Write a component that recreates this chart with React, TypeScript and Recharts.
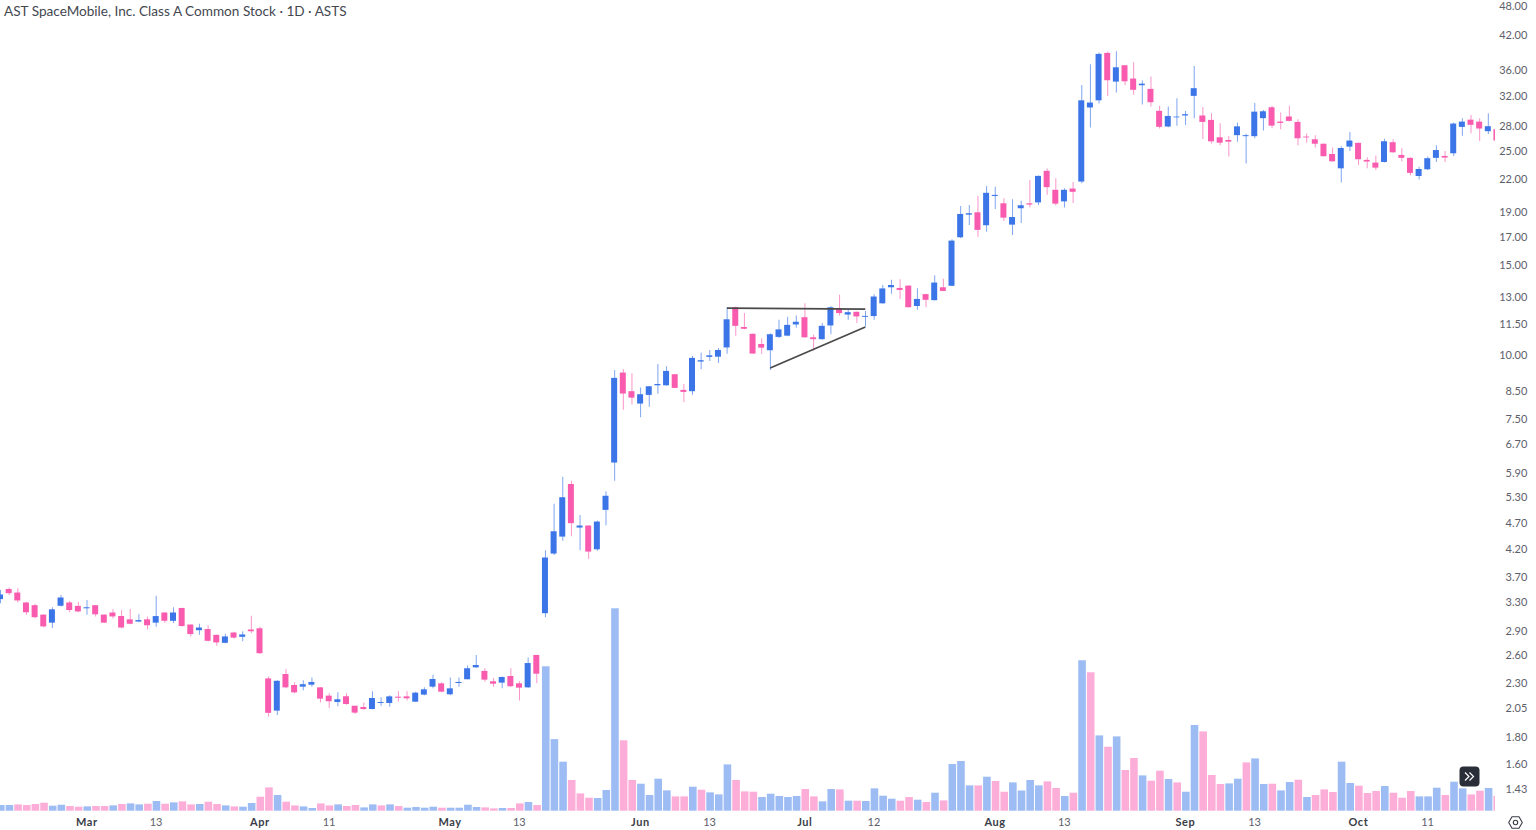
import React from "react";
import { ComposedChart, Bar, Cell, XAxis, YAxis, ReferenceLine } from "recharts";

const title = "AST SpaceMobile, Inc. Class A Common Stock · 1D · ASTS";

const highs = [
  3.48,3.52,3.505,3.30,3.27,3.12,3.22,3.40,3.31,3.30,
  3.325,3.25,3.12,3.19,3.18,3.195,3.12,3.09,3.39,3.15,
  3.22,3.21,2.98,2.99,2.97,2.85,2.86,2.885,2.89,3.10,
  2.95,2.36,2.32,2.44,2.30,2.32,2.35,2.25,2.19,2.20,
  2.19,2.07,2.10,2.21,2.15,2.17,2.21,2.21,2.205,2.25,
  2.38,2.30,2.35,2.35,2.48,2.60,2.45,2.345,2.36,2.45,
  2.31,2.57,2.60,4.16,5.12,5.78,5.68,4.87,4.65,4.75,
  5.42,9.34,9.38,9.20,8.63,8.69,9.59,9.49,9.17,8.77,
  9.945,10.09,10.21,10.30,12.37,12.41,12.05,11.0,10.76,11.01,
  11.69,11.85,11.92,12.59,10.93,11.52,12.43,13.08,12.3,12.14,
  12.16,13.12,13.67,14.0,14.03,13.65,13.47,13.14,14.28,14.05,
  16.78,19.49,19.58,20.38,21.32,21.23,20.17,20.07,19.95,21.9,
  22.34,23.04,22.07,21.1,21.7,33.54,36.8,38.78,38.95,39.0,
  36.63,37.14,34.2,34.83,30.53,30.44,31.6,29.84,36.53,30.39,
  29.54,28.24,26.68,28.32,26.93,30.93,29.97,30.53,29.63,30.53,
  28.76,26.97,26.77,25.8,25.33,25.47,27.16,25.9,24.25,24.43,
  26.33,26.29,25.24,24.25,23.24,24.32,25.6,24.93,28.33,28.87,
  29.3,28.87,29.53,27.5,
];

const lows = [
  3.28,3.40,3.29,3.115,3.06,2.94,2.935,3.23,3.15,3.15,
  3.115,3.09,3.0,3.06,2.93,2.985,3.01,2.915,2.95,3.0,
  3.0,2.95,2.825,2.845,2.76,2.71,2.74,2.80,2.765,2.87,
  2.615,1.97,1.985,2.24,2.19,2.22,2.255,2.10,2.05,2.065,
  2.08,1.995,2.03,2.035,2.07,2.06,2.11,2.12,2.105,2.17,
  2.24,2.20,2.17,2.255,2.33,2.455,2.305,2.255,2.24,2.255,
  2.12,2.245,2.29,3.08,4.07,4.34,4.43,4.16,4.0,4.15,
  4.65,5.68,7.81,8.0,7.55,7.92,8.39,8.70,8.60,8.09,
  8.35,9.37,9.72,9.63,10.04,10.89,11.20,10.04,10.03,9.34,
  10.78,10.86,11.28,10.79,10.19,10.69,10.96,11.92,11.69,11.52,
  11.35,11.69,12.57,13.14,12.84,12.35,12.23,12.37,12.75,13.29,
  13.6,16.88,17.9,16.98,17.36,19.23,18.22,17.11,18.06,19.38,
  19.58,20.48,19.52,19.35,19.75,21.57,27.7,30.85,31.93,32.42,
  33.49,32.08,30.72,30.44,27.58,27.75,27.94,28.03,28.89,26.32,
  25.8,25.58,24.32,26.0,23.57,26.41,27.33,27.61,27.49,28.45,
  25.6,25.88,25.33,24.32,23.77,21.66,24.93,23.42,23.07,22.9,
  23.67,24.75,23.78,22.36,21.94,22.9,23.74,23.74,24.39,26.69,
  26.99,26.09,26.91,26.13,
];

const opens = [
  3.34,3.495,3.44,3.29,3.25,3.115,3.005,3.24,3.29,3.24,
  3.205,3.25,3.115,3.145,3.095,3.05,3.02,3.05,3.005,3.145,
  3.03,3.21,2.98,2.905,2.92,2.845,2.745,2.875,2.82,2.915,
  2.93,2.34,2.025,2.387,2.272,2.255,2.275,2.248,2.166,2.105,
  2.16,2.07,2.058,2.04,2.096,2.096,2.156,2.159,2.108,2.176,
  2.255,2.289,2.179,2.292,2.331,2.459,2.42,2.31,2.296,2.366,
  2.289,2.248,2.60,3.135,4.097,4.421,5.598,4.604,4.646,4.176,
  4.984,6.163,9.229,8.488,8.029,8.348,8.716,8.716,9.16,8.538,
  8.488,9.695,9.90,9.91,10.33,12.37,11.32,10.98,10.49,10.2,
  10.83,10.89,11.45,11.83,10.81,10.72,11.4,12.33,11.97,12.12,
  11.85,11.89,12.59,13.53,13.49,13.63,12.44,13.12,12.77,13.53,
  13.62,16.93,18.74,18.94,17.87,20.38,19.72,17.92,19.29,19.72,
  19.8,22.81,20.95,19.89,21.07,21.74,30.31,31.3,38.72,34.04,
  36.63,34.51,33.49,32.95,29.86,27.83,29.0,29.24,31.93,29.24,
  28.67,26.52,26.2,26.77,26.65,26.65,28.89,30.34,28.45,29.11,
  28.41,26.6,26.28,25.76,24.6,23.07,25.43,25.86,23.96,23.67,
  23.74,25.94,24.5,24.18,22.29,22.97,24.18,24.39,24.68,27.78,
  28.7,28.45,27.25,27.5,
];

const closes = [
  3.41,3.43,3.32,3.15,3.08,2.955,3.19,3.365,3.18,3.16,
  3.22,3.12,3.005,3.09,2.94,2.99,3.04,2.97,3.095,3.03,
  3.145,2.96,2.855,2.94,2.77,2.75,2.825,2.81,2.85,2.89,
  2.62,2.005,2.315,2.248,2.198,2.28,2.303,2.137,2.112,2.131,
  2.086,2.007,2.04,2.143,2.105,2.159,2.146,2.14,2.195,2.228,
  2.334,2.205,2.238,2.303,2.449,2.485,2.327,2.285,2.355,2.259,
  2.245,2.507,2.39,4.025,4.528,5.275,4.695,4.646,4.133,4.73,
  5.31,9.011,8.399,8.247,8.374,8.678,8.767,9.297,8.614,8.462,
  9.857,9.754,9.97,10.21,11.72,11.38,11.23,10.05,10.32,10.96,
  11.2,11.43,11.59,10.81,10.72,11.38,12.37,12.05,12.1,11.87,
  11.9,12.98,13.46,13.67,13.37,12.37,12.84,12.79,13.82,13.31,
  16.68,18.8,18.86,17.5,20.67,20.48,18.49,18.54,19.55,19.61,
  22.3,21.2,19.69,20.95,20.76,31.3,30.99,38.55,34.25,36.3,
  34.09,32.81,33.73,31.03,27.79,29.18,29.1,29.41,33.05,28.41,
  26.04,25.88,26.0,27.85,26.77,29.75,29.8,27.94,28.28,28.54,
  26.4,26.5,25.76,24.36,23.81,25.27,26.13,24.03,23.78,23.14,
  26.05,24.79,24.18,22.6,23.0,24.14,25.04,24.21,28.2,28.45,
  28.04,27.58,27.87,26.13,
];

const volumes = [
  1.42,1.42,1.58,1.42,1.67,2.0,1.25,1.5,1.17,1.0,
  1.08,1.17,1.17,1.33,1.67,1.83,1.58,1.75,2.42,1.75,
  2.08,2.33,1.58,1.67,2.25,1.67,1.33,1.08,1.0,1.92,
  3.5,5.83,3.92,2.25,1.33,1.08,0.67,1.83,1.33,1.58,
  1.17,1.42,0.83,1.58,1.33,1.58,1.17,0.75,0.92,0.75,
  1.0,0.75,0.75,0.75,1.5,0.92,0.83,0.58,0.67,0.67,
  1.83,2.17,1.42,36.1,17.9,12.25,7.67,4.33,3.25,3.17,
  5.17,50.6,17.6,7.67,6.75,3.92,8.0,5.08,3.58,3.58,
  6.0,5.25,4.58,4.08,11.58,7.67,4.83,4.75,3.42,4.25,
  3.67,3.42,3.67,5.42,3.58,2.33,5.42,5.33,2.5,2.5,
  2.42,5.58,3.75,3.0,2.5,3.42,2.75,2.17,4.5,2.58,
  11.67,12.42,6.33,6.33,8.5,7.42,4.75,7.08,5.08,7.67,
  6.33,7.33,5.67,3.67,4.5,37.6,34.6,18.83,16,18.58,
  10.17,13.17,8.83,7.5,10,7.92,7.08,4.75,21.4,19.83,
  8.92,6.67,6.83,8,12.08,13.08,6.67,6.75,5.08,7.17,
  7.75,3.42,3.92,5.33,4.67,12.25,6.92,6.25,4.42,4.92,
  6.17,4.5,3.25,4.92,3.58,3.58,5.75,3.92,7.25,5.58,
  4.08,5,5.67,3.75,
];

// b = blue (close above previous close), p = pink
const volumeSides = (
  "bbppppbbpp" + "bppbpbbpbp" + "bppbppbpbb" + "ppbppbbppb" +
  "ppbbpbpbbb" + "bpbbbbppbp" + "pbpbbbpppb" + "bbppbbbbpp" +
  "bpbbbpppbb" + "bbbppbbpbp" + "bbbbppbpbp" + "bbbpbppbbb" +
  "bppbpbpbpb" + "ppbppbpbbp" + "ppbbpbbpbb" + "pbpppbbppp" +
  "bpppbbbpbb" + "ppbp"
).split("");

const xTickIndexes = [10,18,30,38,52,60,74,82,93,101,115,123,137,145,157,165];
const xTickLabels = ["Mar","13","Apr","11","May","13","Jun","13","Jul","12","Aug","13","Sep","13","Oct","11"];
const priceTicks = [48,42,36,32,28,25,22,19,17,15,13,11.5,10,8.5,7.5,6.7,5.9,5.3,4.7,4.2,3.7,3.3,2.9,2.6,2.3,2.05,1.8,1.6,1.43];

const resistance = [{ x: 84, y: 12.32 }, { x: 100, y: 12.27 }];
const support = [{ x: 89, y: 9.42 }, { x: 100, y: 11.32 }];

const rows = highs.map((h, i) => ({
  idx: i,
  wick: [lows[i], h],
  body: [Math.min(opens[i], closes[i]), Math.max(opens[i], closes[i])],
  volume: volumes[i],
}));

const BLUE = "#3b75e8";
const PINK = "#f95cae";
const VOL_BLUE = "#9dbcf4";
const VOL_PINK = "#fdaed8";
const FONT = "Lato, 'Noto Sans', sans-serif";

const XTick = (props: any) => {
  const { x, payload } = props;
  const label = xTickLabels[xTickIndexes.indexOf(payload.value)] ?? "";
  const isMonth = isNaN(Number(label));
  return (
    <text x={x} y={822} textAnchor="middle" dominantBaseline="central"
      fontFamily={FONT} fontSize={11} fontWeight={isMonth ? 700 : 400}
      letterSpacing={isMonth ? 0.6 : 0} fill={isMonth ? "#3a3d47" : "#5d606b"}>
      {label}
    </text>
  );
};

const YTick = (props: any) => {
  const { y, payload } = props;
  return (
    <text x={1531.3} y={y} textAnchor="end" dominantBaseline="central"
      fontFamily={FONT} fontSize={11} fill="#5d606b">
      {Number(payload.value).toFixed(2)}
    </text>
  );
};

export default function App() {
  return (
    <div style={{ position: "absolute", left: 0, top: 0, width: 1536, height: 830, overflow: "hidden", background: "#fff" }}>
      <div style={{ position: "absolute", left: 0, top: 0, width: 1495, height: 811, overflow: "hidden" }}>
        <div style={{ position: "absolute", left: -4.325, top: 0 }}>
          <ComposedChart width={1540.325} height={830} data={rows} margin={{ top: 0, right: 35.2, bottom: 19.3, left: 0 }}>
            <XAxis xAxisId="vol" dataKey="idx" hide />
            <XAxis xAxisId="wick" dataKey="idx" hide />
            <XAxis xAxisId="body" dataKey="idx" hide />
            <YAxis yAxisId="price" scale="log" domain={[1.2926, 49.09]} allowDataOverflow hide />
            <YAxis yAxisId="volume" hide domain={[0, 202.7]} />
            <Bar xAxisId="vol" yAxisId="volume" dataKey="volume" barSize={7.6} isAnimationActive={false}>
              {rows.map((r, i) => (
                <Cell key={r.idx} fill={volumeSides[i] === "b" ? VOL_BLUE : VOL_PINK} />
              ))}
            </Bar>
            <Bar xAxisId="wick" yAxisId="price" dataKey="wick" barSize={1} isAnimationActive={false}>
              {rows.map((r, i) => (
                <Cell key={r.idx} fill={closes[i] >= opens[i] ? BLUE : PINK} fillOpacity={0.65} />
              ))}
            </Bar>
            <Bar xAxisId="body" yAxisId="price" dataKey="body" barSize={6} isAnimationActive={false}>
              {rows.map((r, i) => (
                <Cell key={r.idx} fill={closes[i] >= opens[i] ? BLUE : PINK} />
              ))}
            </Bar>
            <ReferenceLine xAxisId="body" yAxisId="price" segment={resistance} stroke="#4a4a4a" strokeWidth={1.8} ifOverflow="visible" />
            <ReferenceLine xAxisId="body" yAxisId="price" segment={support} stroke="#4a4a4a" strokeWidth={1.8} ifOverflow="visible" />
          </ComposedChart>
        </div>
      </div>
      <div style={{ position: "absolute", left: -4.325, top: 0, pointerEvents: "none" }}>
        <ComposedChart width={1540.325} height={830} data={rows} margin={{ top: 0, right: 0, bottom: 0, left: 0 }}>
          <XAxis dataKey="idx" height={19.3} ticks={xTickIndexes} interval={0} axisLine={false} tickLine={false} tick={<XTick />} />
          <YAxis orientation="right" width={35.2} scale="log" domain={[1.2926, 49.09]} allowDataOverflow
            ticks={priceTicks} interval={0} axisLine={false} tickLine={false} tick={<YTick />} />
          <Bar dataKey="volume" fill="none" isAnimationActive={false} />
        </ComposedChart>
      </div>
      <div style={{ position: "absolute", left: 4, top: 2.5, fontFamily: FONT, fontSize: 13.6, lineHeight: "17px", color: "#444750", whiteSpace: "nowrap" }}>
        {title}
      </div>
      <svg style={{ position: "absolute", left: 1459, top: 766 }} width={22} height={21}>
        <rect x={0.5} y={0.5} width={20} height={20} rx={4} fill="#2a2e39" />
        <path d="M6 6.5 L10 10.5 L6 14.5 M10.5 6.5 L14.5 10.5 L10.5 14.5" fill="none" stroke="#fff" strokeWidth={1.2} />
      </svg>
      <svg style={{ position: "absolute", left: 1506, top: 813 }} width={20} height={20}>
        <path d="M6 3.8 L13 3.8 L16.3 9.5 L13 15.2 L6 15.2 L2.7 9.5 Z" fill="none" stroke="#3a3d47" strokeWidth={1.1} strokeLinejoin="round" />
        <circle cx={9.5} cy={9.5} r={2.2} fill="none" stroke="#3a3d47" strokeWidth={1.1} />
      </svg>
    </div>
  );
}
